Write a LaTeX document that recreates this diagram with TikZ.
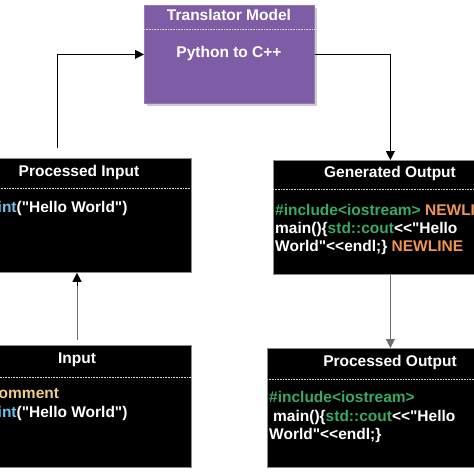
\documentclass[tikz,border=0pt]{standalone}
\usepackage{fontspec}
\setmainfont[Ligatures=TeXOff]{Liberation Sans}
\usetikzlibrary{arrows.meta}
\definecolor{tmpurple}{RGB}{126,92,166}
\definecolor{tmborder}{RGB}{150,120,185}
\definecolor{boxborder}{RGB}{140,140,140}
\definecolor{codeblue}{RGB}{110,195,235}
\definecolor{codeyellow}{RGB}{240,205,135}
\definecolor{codegreen}{RGB}{55,170,100}
\definecolor{codeorange}{RGB}{240,150,80}
\definecolor{arrgrey}{RGB}{110,110,110}
\begin{document}
\begin{tikzpicture}[x=1pt,y=-1pt,
  every node/.style={font=\fontsize{15.5}{18.5}\selectfont\bfseries, text=white},
  codebox/.style={draw=boxborder, fill=black, line width=0.8pt, anchor=north west, inner sep=0},
  tmbox/.style={draw=tmborder, fill=tmpurple, line width=0.8pt, anchor=north west, inner sep=0},
  sep/.style={draw=white!85!black, densely dotted, line width=0.6pt},
  lbl/.style={inner sep=0, anchor=base},
  code/.style={inner sep=0, anchor=base west},
  arr/.style={-{Triangle[length=9pt,width=9pt]}, line width=0.8pt},
]
\useasboundingbox (0,0) rectangle (474,474);
\fill[white] (0,0) rectangle (474,474);

% Translator model
\fill[black!20] (147,8) rectangle (317,106);
\node[tmbox, minimum width=170pt, minimum height=98pt] (tm) at (144,5) {};
\draw[sep] (144,29) -- (314,29);
\node[lbl] (tmh) at (229,20.5) {Translator Model};
\node[lbl] (tmc) at (229,57.5) {Python to C++};

% Processed Input
\node[codebox, minimum width=224pt, minimum height=114pt] (pi) at (-33,158) {};
\draw[sep] (-33,188) -- (191,188);
\node[lbl] (pih) at (79,176.5) {Processed Input};
\node[code] (pic) at (-18,212.5) {\textcolor{codeblue}{print}("Hello World")};

% Input
\node[codebox, minimum width=228pt, minimum height=122pt] (in) at (-37,345) {};
\draw[sep] (-37,377) -- (191,377);
\node[lbl] (inh) at (77,363.5) {Input};
\node[code] (inc1) at (-23,398.5) {\textcolor{codeyellow}{\# comment}};
\node[code] (inc2) at (-18,417.5) {\textcolor{codeblue}{print}("Hello World")};

% Generated Output
\node[codebox, minimum width=234pt, minimum height=114pt] (go) at (273,160) {};
\draw[sep] (273,189) -- (507,189);
\node[lbl] (goh) at (390,177.5) {Generated Output};
\node[code] (goc1) at (275,215.5) {\textcolor{codegreen}{\#include<iostream>} \textcolor{codeorange}{NEWLINE}};
\node[code] (goc2) at (275,233.5) {main()\{\textcolor{codegreen}{std::cout}<<"Hello};
\node[code] (goc3) at (275,251.5) {World"<<endl;\} \textcolor{codeorange}{NEWLINE}};

% Processed Output
\node[codebox, minimum width=246pt, minimum height=119pt] (po) at (267,348) {};
\draw[sep] (267,379) -- (513,379);
\node[lbl] (poh) at (390,366.5) {Processed Output};
\node[code] (poc1) at (269,402.5) {\textcolor{codegreen}{\#include<iostream>}};
\node[code] (poc2) at (273,421.5) {main()\{\textcolor{codegreen}{std::cout}<<"Hello};
\node[code] (poc3) at (269,439.5) {World"<<endl;\}};

% Connectors
\coordinate (piout) at (57,148);
\draw[arr, black] (piout) |- (tm.west);
\draw[arr, black] (tm.east) -| (go.north);
\draw[arr, arrgrey] (go.south) -- (go.south |- po.north);
\coordinate (inout) at (77,340);
\draw[arrgrey, line width=0.8pt] (inout) -- (77,285);
\draw[arr, black] (77,286) -- (inout |- pi.south);
\end{tikzpicture}
\end{document}
